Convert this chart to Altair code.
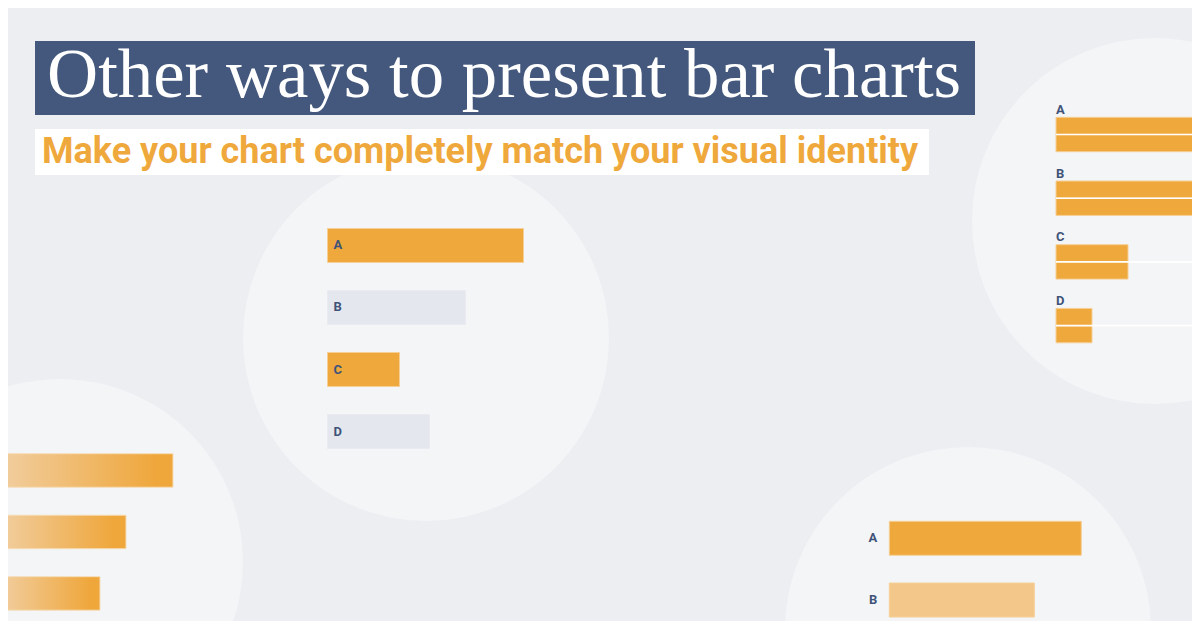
import altair as alt
import pandas as pd

# ---------------- data ----------------
categories = ["A", "B", "C", "D"]
center_values = [98, 69, 36, 51]            # middle circle: simple bars
right_series_1 = [112, 110, 36, 18]         # top-right circle: paired bars
right_series_2 = [112, 110, 36, 18]
left_categories = ["A", "B", "C"]
left_values = [86.5, 63, 50]                # bottom-left circle: gradient bars
bottom_categories = ["A", "B"]
bottom_values = [96, 72.5]                  # bottom-right circle

title_text = "Other ways to present bar charts"
subtitle_text = "Make your chart completely match your visual identity"

# ---------------- style / layout ----------------
BG = "#EDEEF2"
CIRCLE = "#F4F5F7"
NAVY = "#43587C"
ORANGE = "#EFA83C"
ORANGE_EDGE = "#F5CF96"
LIGHT_ORANGE = "#F3C78A"
GREY_BAR = "#E4E7EE"
LABEL = "#3F5378"

M = 8                     # page margin
W, H = 1184, 613


def px(v):
    return v - M


canvas_x = alt.Scale(domain=[M, M + W], range=[0, W], nice=False, zero=False)
canvas_y = alt.Scale(domain=[M, M + H], range=[0, H], nice=False, zero=False)

# background circles
circles_df = pd.DataFrame({"cx": [426, 1155, 60, 968], "cy": [338, 221, 562, 630]})
circles = alt.Chart(circles_df).mark_circle(
    size=366 * 366, color=CIRCLE, opacity=1
).encode(
    x=alt.X("cx:Q", scale=canvas_x, axis=None),
    y=alt.Y("cy:Q", scale=canvas_y, axis=None),
)

boxes_df = pd.DataFrame({
    "x0": [35, 35], "x1": [975, 929], "y0": [41, 129], "y1": [115, 175],
    "kind": ["title", "subtitle"],
})
boxes = alt.Chart(boxes_df).mark_rect().encode(
    x=alt.X("x0:Q", scale=canvas_x, axis=None),
    x2="x1:Q",
    y=alt.Y("y0:Q", scale=canvas_y, axis=None),
    y2="y1:Q",
    color=alt.Color("kind:N", scale=alt.Scale(domain=["title", "subtitle"], range=[NAVY, "#FFFFFF"]), legend=None),
)

title_df = pd.DataFrame({"x": [47], "y": [96.5], "t": [title_text]})
title = alt.Chart(title_df).mark_text(
    font="Liberation Serif", fontSize=70.8, color="#FFFFFF", align="left", baseline="alphabetic"
).encode(
    x=alt.X("x:Q", scale=canvas_x, axis=None),
    y=alt.Y("y:Q", scale=canvas_y, axis=None),
    text="t:N",
)

sub_df = pd.DataFrame({"x": [42], "y": [163], "t": [subtitle_text]})
subtitle = alt.Chart(sub_df).mark_text(
    font="Roboto", fontSize=36, fontWeight="bold", color=ORANGE, align="left", baseline="alphabetic"
).encode(
    x=alt.X("x:Q", scale=canvas_x, axis=None),
    y=alt.Y("y:Q", scale=canvas_y, axis=None),
    text="t:N",
)

canvas = alt.layer(circles, boxes, title, subtitle)

# ---------------- middle chart ----------------
df1 = pd.DataFrame({"cat": categories, "value": center_values, "zero": 0})
x1 = alt.Scale(domain=[0, 100], range=[px(327.5), px(527.5)], nice=False)
y1 = alt.Scale(domain=categories, range=[px(228.5), px(448.5)], paddingInner=0.452, paddingOuter=0)
bars1 = alt.Chart(df1).mark_bar(strokeWidth=1).encode(
    x=alt.X("value:Q", scale=x1, axis=None),
    y=alt.Y("cat:N", scale=y1, axis=None),
    color=alt.condition(alt.FieldOneOfPredicate(field="cat", oneOf=["A", "C"]),
                        alt.value(ORANGE), alt.value(GREY_BAR)),
    stroke=alt.condition(alt.FieldOneOfPredicate(field="cat", oneOf=["A", "C"]),
                         alt.value(ORANGE_EDGE), alt.value("#E9EBF1")),
)
text1 = alt.Chart(df1).mark_text(
    font="Roboto", fontSize=13, fontWeight="bold", color=LABEL, align="left", baseline="middle", dx=6
).encode(
    x=alt.X("zero:Q", scale=x1, axis=None),
    y=alt.Y("cat:N", scale=y1, axis=None),
    text="cat:N",
)
chart1 = alt.layer(bars1, text1)

# ---------------- top-right chart ----------------
df2 = pd.DataFrame({
    "cat": categories * 2,
    "series": ["s1"] * 4 + ["s2"] * 4,
    "value": right_series_1 + right_series_2,
})
df2["zero"] = 0
df2["end"] = 200
x2s = alt.Scale(domain=[0, 100], range=[px(1056), px(1256)], nice=False)
y2s = alt.Scale(domain=categories, range=[px(117.3), px(342.8)], paddingInner=0.46, paddingOuter=0)
bars2 = alt.Chart(df2).mark_bar(stroke=ORANGE_EDGE, strokeWidth=1, color=ORANGE, clip=True).encode(
    x=alt.X("value:Q", scale=x2s, axis=None),
    y=alt.Y("cat:N", scale=y2s, axis=None),
    yOffset=alt.YOffset("series:N", scale=alt.Scale(paddingInner=0, paddingOuter=0)),
)
rules2 = alt.Chart(df2[df2.series == "s1"]).mark_rule(color="#FFFFFF", strokeWidth=1.6, clip=True).encode(
    x=alt.X("zero:Q", scale=x2s, axis=None),
    x2="end:Q",
    y=alt.Y("cat:N", scale=y2s, axis=None),
)
text2 = alt.Chart(df2[df2.series == "s1"]).mark_text(
    font="Roboto", fontSize=13, fontWeight="bold", color=LABEL, align="left", baseline="alphabetic", dy=-20.5
).encode(
    x=alt.X("zero:Q", scale=x2s, axis=None),
    y=alt.Y("cat:N", scale=y2s, axis=None),
    text="cat:N",
)
chart2 = alt.layer(bars2, rules2, text2)

# ---------------- bottom-left chart ----------------
df3 = pd.DataFrame({"cat": left_categories, "value": left_values})
x3 = alt.Scale(domain=[0, 100], range=[px(0), px(200)], nice=False)
y3 = alt.Scale(domain=left_categories, range=[px(453.7), px(610.2)], paddingInner=0.455, paddingOuter=0)
grad = alt.Gradient(
    gradient="linear",
    stops=[alt.GradientStop(color="#F1CEA0", offset=0),
           alt.GradientStop(color="#EFA73C", offset=0.9),
           alt.GradientStop(color="#EFA73C", offset=1)],
    x1=0, x2=1, y1=0, y2=0,
)
bars3 = alt.Chart(df3).mark_bar(color=grad, stroke="#F5DDB8", strokeWidth=1, clip=True).encode(
    x=alt.X("value:Q", scale=x3, axis=None),
    y=alt.Y("cat:N", scale=y3, axis=None),
)
chart3 = alt.layer(bars3)

# ---------------- bottom-right chart ----------------
df4 = pd.DataFrame({"cat": bottom_categories, "value": bottom_values, "zero": 0})
x4 = alt.Scale(domain=[0, 100], range=[px(889.3), px(1089.3)], nice=False)
y4 = alt.Scale(domain=bottom_categories, range=[px(521.3), px(617)], paddingInner=0.45, paddingOuter=0)
bars4 = alt.Chart(df4).mark_bar(stroke=ORANGE_EDGE, strokeWidth=1, clip=True).encode(
    x=alt.X("value:Q", scale=x4, axis=None),
    y=alt.Y("cat:N", scale=y4, axis=None),
    color=alt.condition(alt.datum.cat == "A", alt.value(ORANGE), alt.value(LIGHT_ORANGE)),
)
text4 = alt.Chart(df4).mark_text(
    font="Roboto", fontSize=13, fontWeight="bold", color=LABEL, align="right", baseline="middle", dx=-12
).encode(
    x=alt.X("zero:Q", scale=x4, axis=None),
    y=alt.Y("cat:N", scale=y4, axis=None),
    text="cat:N",
)
chart4 = alt.layer(bars4, text4)

chart = alt.layer(canvas, chart1, chart2, chart3, chart4).resolve_scale(
    x="independent", y="independent", color="independent", stroke="independent"
).properties(
    width=W, height=H, padding=0, background=BG,
    autosize=alt.AutoSizeParams(type="none"),
).configure_view(stroke=None)

chart.save("out.html", embed_options={"renderer": "svg", "actions": False})
